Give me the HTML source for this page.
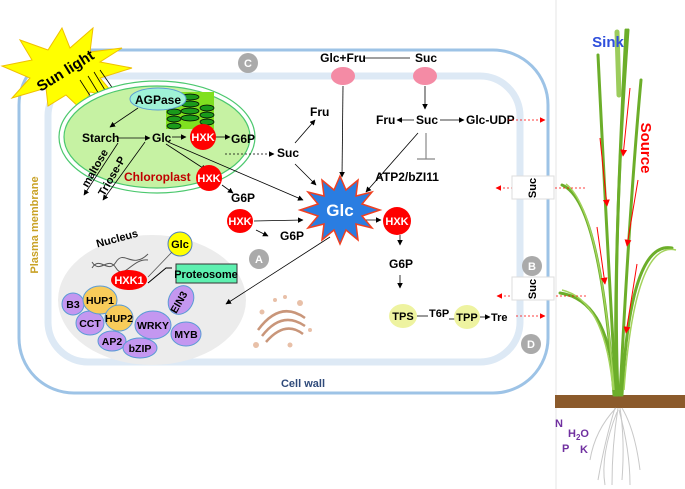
<!DOCTYPE html>
<html><head><meta charset="utf-8"><style>
html,body{margin:0;padding:0;background:#fff;}
svg{display:block;}
text{font-family:"Liberation Sans",sans-serif;font-weight:bold;}
</style></head><body>
<svg width="685" height="489" viewBox="0 0 685 489" xmlns="http://www.w3.org/2000/svg">
<defs>
<marker id="a" viewBox="0 0 10 10" refX="9" refY="5" markerWidth="7" markerHeight="7" orient="auto"><path d="M0,0L10,5L0,10z" fill="#000"/></marker>
<marker id="r" viewBox="0 0 10 10" refX="9" refY="5" markerWidth="7" markerHeight="7" orient="auto"><path d="M0,0L10,5L0,10z" fill="#f00"/></marker>
</defs>
<rect x="19" y="50" width="529" height="343" rx="55" fill="#fff" stroke="#9dc3e6" stroke-width="3"/>
<rect x="48" y="76" width="472" height="286" rx="40" fill="none" stroke="#dde9f5" stroke-width="7"/>
<line x1="556" y1="0" x2="556" y2="489" stroke="#e4e4e4" stroke-width="1"/>
<rect x="555" y="395" width="130" height="13" fill="#8b5a2b"/>
<g stroke="#c8c8c8" stroke-width="1" fill="none">
<path d="M615,408 Q605,440 598,480"/><path d="M618,408 Q612,445 612,485"/><path d="M620,408 Q625,440 622,480"/><path d="M622,408 Q635,430 640,470"/><path d="M616,408 Q595,430 590,460"/><path d="M619,410 Q630,450 630,485"/><path d="M617,412 Q600,455 605,485"/>
</g>
<g fill="none" stroke="#6cae2a" stroke-width="3" stroke-linecap="round">
<path d="M618,395 Q612,250 628,30"/>
<path d="M616,395 Q608,260 598,55"/>
<path d="M620,395 Q630,200 641,80"/>
<path d="M614,395 Q600,200 562,185"/>
<path d="M622,395 Q630,240 672,248"/>
<path d="M615,395 Q610,300 560,293"/>
<path d="M617,395 Q612,300 626,30"/>
</g>
<g fill="none" stroke="#a3d35c" stroke-width="1.5">
<path d="M614,390 Q600,210 566,184"/><path d="M624,390 Q635,240 676,250"/><path d="M613,390 Q605,300 562,290"/>
</g>
<path d="M617,32 L619,95" stroke="#9ccc5c" stroke-width="5" stroke-linecap="round"/>
<g stroke="#f00" stroke-width="1" fill="none" marker-end="url(#r)">
<line x1="630" y1="88" x2="623" y2="156"/><line x1="600" y1="138" x2="607" y2="206"/><line x1="638" y1="180" x2="627" y2="246"/><line x1="597" y1="227" x2="605" y2="284"/><line x1="637" y1="264" x2="626" y2="333"/>
</g>
<text x="608" y="47" font-size="15" fill="#2f4fdc" text-anchor="middle">Sink</text>
<text transform="translate(641,148) rotate(90)" font-size="15" fill="#f00" text-anchor="middle">Source</text>
<g fill="#7030a0" font-size="11">
<text x="555" y="427">N</text><text x="568" y="437">H<tspan font-size="8" dy="3">2</tspan><tspan dy="-3">O</tspan></text><text x="562" y="452">P</text><text x="580" y="453">K</text>
</g>
<polygon points="62,28 70,48 93,28 90,52 122,48 100,62 132,68 100,78 116,97 90,92 82,110 66,95 48,106 46,88 12,98 30,78 2,66 32,60 20,40 48,50" fill="#ffff00" stroke="#f0c000" stroke-width="1"/>
<text transform="translate(68,75) rotate(-32)" font-size="15" fill="#000" text-anchor="middle">Sun light</text>
<g stroke="#000" stroke-width="0.8" marker-end="url(#a)">
<line x1="80" y1="80" x2="98" y2="108"/><line x1="88" y1="76" x2="105" y2="104"/><line x1="94" y1="72" x2="111" y2="100"/><line x1="100" y1="70" x2="118" y2="96"/>
</g>
<ellipse cx="157" cy="137" rx="98" ry="56" fill="#fff" stroke="#4cc86e" stroke-width="1.2"/>
<ellipse cx="157" cy="137" rx="93" ry="51" fill="#c6f2a3" stroke="#4cc86e" stroke-width="1.2"/>
<rect x="166" y="92" width="48" height="37" fill="#80e020"/>
<g fill="#1a9a1a" stroke="#000" stroke-width="0.7">
<ellipse cx="174" cy="112" rx="7" ry="3"/><ellipse cx="174" cy="119" rx="7" ry="3"/><ellipse cx="174" cy="126" rx="7" ry="3"/>
<ellipse cx="190" cy="97" rx="9" ry="3"/><ellipse cx="190" cy="104" rx="9" ry="3"/><ellipse cx="190" cy="111" rx="9" ry="3"/><ellipse cx="190" cy="118" rx="9" ry="3"/>
<ellipse cx="207" cy="108" rx="7" ry="3"/><ellipse cx="207" cy="115" rx="7" ry="3"/><ellipse cx="207" cy="122" rx="7" ry="3"/>
</g>
<ellipse cx="158" cy="99" rx="28" ry="11" fill="#9ff2d6" stroke="#5b9bd5"/>
<text x="158" y="104" font-size="12" text-anchor="middle" font-weight="normal">AGPase</text>
<text x="82" y="142" font-size="12">Starch</text>
<text x="152" y="142" font-size="12">Glc</text>
<text x="231" y="143" font-size="12">G6P</text>
<text x="124" y="181" font-size="12" fill="#c00000">Chloroplast</text>
<text transform="translate(98,170) rotate(-60)" font-size="11" text-anchor="middle">maltose</text>
<text transform="translate(115,178) rotate(-60)" font-size="11" text-anchor="middle">Triose-P</text>
<!-- nucleus (drawn before arrows) -->
<ellipse cx="152" cy="300" rx="94" ry="65" fill="#ececec"/>
<g stroke="#000" stroke-width="0.8" fill="none" marker-end="url(#a)">
<line x1="138" y1="108" x2="110" y2="127"/>
<line x1="118" y1="138" x2="150" y2="138"/>
<line x1="172" y1="137" x2="186" y2="137"/>
<line x1="216" y1="137" x2="230" y2="137"/>
<line x1="118" y1="143" x2="84" y2="195"/>
<line x1="145" y1="142" x2="103" y2="200"/>
<line x1="166" y1="144" x2="206" y2="170"/>
<line x1="222" y1="185" x2="233" y2="193"/>
<line x1="168" y1="142" x2="303" y2="200"/>
<line x1="225" y1="154" x2="274" y2="154" stroke-dasharray="2,2"/>
<line x1="295" y1="143" x2="315" y2="120"/>
<line x1="295" y1="164" x2="316" y2="185"/>
<line x1="254" y1="221" x2="303" y2="220"/>
<line x1="256" y1="230" x2="268" y2="236"/>
<line x1="330" y1="237" x2="226" y2="304"/>
<line x1="343" y1="86" x2="342" y2="177"/>
<line x1="425" y1="86" x2="425" y2="109"/>
<line x1="418" y1="133" x2="366" y2="192"/>
<line x1="414" y1="120" x2="397" y2="120"/>
<line x1="440" y1="120" x2="464" y2="120"/>
<line x1="364" y1="220" x2="381" y2="220"/>
<line x1="400" y1="235" x2="400" y2="245"/>
<line x1="400" y1="275" x2="400" y2="288"/>
<line x1="480" y1="317" x2="490" y2="317"/>
</g>
<circle cx="203" cy="137" r="13" fill="#f00"/><text x="203" y="141" font-size="11" fill="#fff" text-anchor="middle">HXK</text>
<circle cx="209" cy="178" r="13" fill="#f00"/><text x="209" y="182" font-size="11" fill="#fff" text-anchor="middle">HXK</text>
<text x="231" y="202" font-size="12">G6P</text>
<ellipse cx="240" cy="221" rx="13" ry="12" fill="#f00"/><text x="240" y="225" font-size="11" fill="#fff" text-anchor="middle">HXK</text>
<text x="280" y="240" font-size="12">G6P</text>
<text x="310" y="116" font-size="12">Fru</text>
<text x="277" y="157" font-size="12">Suc</text>
<line x1="363" y1="58" x2="410" y2="58" stroke="#000" stroke-width="0.8"/>
<text x="343" y="62" font-size="12" text-anchor="middle">Glc+Fru</text>
<text x="426" y="62" font-size="12" text-anchor="middle">Suc</text>
<ellipse cx="343" cy="76" rx="12" ry="9" fill="#f48ba5"/>
<ellipse cx="425" cy="76" rx="12" ry="9" fill="#f48ba5"/>
<text x="376" y="124" font-size="12">Fru</text>
<text x="416" y="124" font-size="12">Suc</text>
<text x="466" y="124" font-size="12">Glc-UDP</text>
<line x1="426" y1="133" x2="426" y2="159" stroke="#888" stroke-width="1.2"/>
<line x1="417" y1="159" x2="435" y2="159" stroke="#888" stroke-width="1.2"/>
<text x="407" y="181" font-size="12" text-anchor="middle">ATP2/bZI11</text>
<polygon points="340,176 346,190 358,180 356,196 372,192 362,204 380,210 362,216 372,228 356,224 358,240 346,230 340,244 334,230 322,240 324,224 308,228 318,216 300,210 318,204 308,192 324,196 322,180 334,190" fill="#2a7de1" stroke="#f04020" stroke-width="1.5"/>
<text x="340" y="216" font-size="17" fill="#fff" text-anchor="middle">Glc</text>
<circle cx="397" cy="221" r="14" fill="#f00"/><text x="397" y="225" font-size="11" fill="#fff" text-anchor="middle">HXK</text>
<text x="401" y="268" font-size="12" text-anchor="middle">G6P</text>
<ellipse cx="403" cy="316" rx="14" ry="12" fill="#eef3a0"/><text x="403" y="320" font-size="11" text-anchor="middle">TPS</text>
<line x1="417" y1="316" x2="428" y2="316" stroke="#000" stroke-width="0.8"/>
<text x="429" y="317" font-size="11">T6P</text>
<line x1="449" y1="319" x2="456" y2="319" stroke="#000" stroke-width="0.8"/>
<ellipse cx="467" cy="317" rx="13" ry="12" fill="#eef3a0"/><text x="467" y="321" font-size="11" text-anchor="middle">TPP</text>
<text x="491" y="321" font-size="11">Tre</text>
<g stroke="#f00" stroke-width="0.8" stroke-dasharray="2,2" marker-end="url(#r)">
<line x1="508" y1="120" x2="545" y2="120"/><line x1="516" y1="316" x2="545" y2="316"/>
<line x1="585" y1="188" x2="496" y2="188"/><line x1="586" y1="296" x2="497" y2="296"/>
</g>
<rect x="512" y="176" width="42" height="23" fill="#fff" stroke="#ddd"/>
<text transform="translate(536,188) rotate(-90)" font-size="11" text-anchor="middle">Suc</text>
<rect x="512" y="277" width="42" height="23" fill="#fff" stroke="#ddd"/>
<text transform="translate(536,289) rotate(-90)" font-size="11" text-anchor="middle">Suc</text>
<g fill="#aaa"><circle cx="248" cy="63" r="10"/><circle cx="259" cy="259" r="10"/><circle cx="532" cy="266" r="10"/><circle cx="531" cy="344" r="10"/></g>
<g fill="#fff" font-size="11" text-anchor="middle"><text x="248" y="67">C</text><text x="259" y="263">A</text><text x="532" y="270">B</text><text x="531" y="348">D</text></g>
<text transform="translate(38,225) rotate(-90)" font-size="11" fill="#c9a227" text-anchor="middle">Plasma membrane</text>
<text x="303" y="387" font-size="11" fill="#2f4a7a" text-anchor="middle">Cell wall</text>
<text transform="translate(118,242) rotate(-15)" font-size="11" text-anchor="middle">Nucleus</text>
<g stroke="#555" stroke-width="1" fill="none">
<path d="M92,268 C100,255 108,275 116,262 C124,249 132,270 148,254"/>
<path d="M92,262 C100,275 108,255 116,268 C124,281 132,258 148,260"/>
</g>
<circle cx="180" cy="244" r="12" fill="#ffff00" stroke="#4f7fbf"/><text x="180" y="248" font-size="11" text-anchor="middle">Glc</text>
<line x1="148" y1="277" x2="172" y2="252" stroke="#555" stroke-width="0.8"/>
<polyline points="148,283 166,268 172,268" fill="none" stroke="#000" stroke-width="1"/>
<ellipse cx="129" cy="280" rx="18" ry="10" fill="#f00"/><text x="129" y="284" font-size="11" fill="#fff" text-anchor="middle">HXK1</text>
<rect x="176" y="264" width="61" height="19" fill="#5ef0b0" stroke="#333"/><text x="206" y="278" font-size="11" text-anchor="middle" font-weight="normal">Proteosome</text>
<g stroke="#5b9bd5" stroke-width="1">
<ellipse cx="73" cy="304" rx="11" ry="11" fill="#c497f0"/>
<ellipse cx="90" cy="323" rx="14" ry="12" fill="#c497f0"/>
<ellipse cx="112" cy="341" rx="14" ry="10" fill="#c497f0"/>
<ellipse cx="140" cy="348" rx="17" ry="10" fill="#c497f0"/>
<ellipse cx="153" cy="325" rx="18" ry="14" fill="#c497f0"/>
<ellipse cx="186" cy="334" rx="15" ry="12" fill="#c497f0"/>
<ellipse cx="181" cy="300" rx="12" ry="15" fill="#c497f0" transform="rotate(30 181 300)"/>
<ellipse cx="100" cy="300" rx="17" ry="14" fill="#f9cc5a"/>
<ellipse cx="119" cy="318" rx="14" ry="13" fill="#f9cc5a"/>
</g>
<g font-size="10.5" text-anchor="middle">
<text x="73" y="308">B3</text><text x="90" y="327">CCT</text><text x="112" y="345">AP2</text><text x="140" y="352">bZIP</text><text x="153" y="329">WRKY</text><text x="186" y="338">MYB</text>
<text transform="translate(182,304) rotate(-60)">EIN3</text><text x="100" y="304">HUP1</text><text x="119" y="322">HUP2</text>
</g>
<g fill="none" stroke="#c9967a" stroke-width="2.5">
<path d="M258,330 Q280,300 305,318"/><path d="M262,336 Q282,310 305,326"/><path d="M266,342 Q285,320 303,334"/>
</g>
<g fill="#e8c0a8"><circle cx="262" cy="312" r="2.5"/><circle cx="275" cy="300" r="2"/><circle cx="300" cy="303" r="3"/><circle cx="310" cy="330" r="2"/><circle cx="256" cy="345" r="3"/><circle cx="290" cy="345" r="2.5"/><circle cx="285" cy="297" r="2"/></g>
</svg>
</body></html>
